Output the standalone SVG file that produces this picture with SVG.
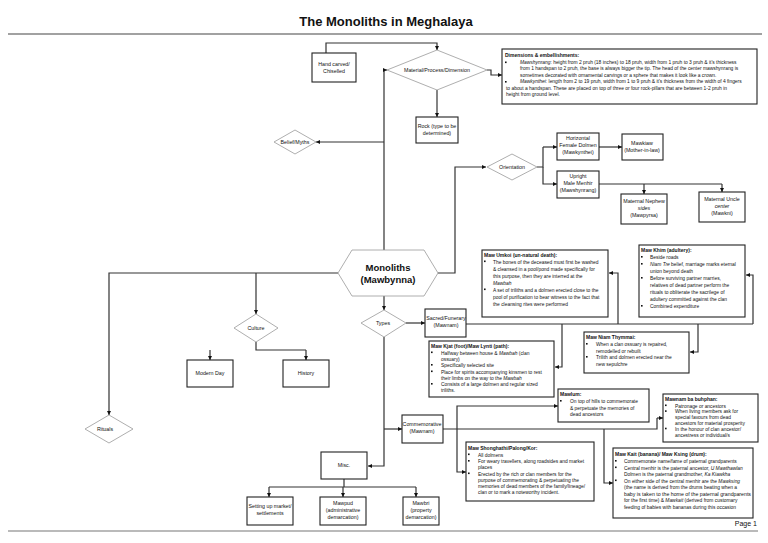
<svg xmlns="http://www.w3.org/2000/svg" width="768" height="543" viewBox="0 0 768 543">
<style>
text{font-family:"Liberation Sans",Arial,sans-serif;fill:#111}
.t{font-size:5.3px;text-anchor:middle}
.s{font-size:4.9px}
.h{font-size:5px;font-weight:bold}
.i{font-style:italic}
.b{fill:#fff;stroke:#222;stroke-width:1.1}
.d{fill:#fff;stroke:#999;stroke-width:0.8}
.c{fill:none;stroke:#333;stroke-width:1.2;marker-end:url(#a)}
.n{fill:none;stroke:#333;stroke-width:1.2}
.bl{fill:#111}
</style>
<defs>
<marker id="a" viewBox="0 0 6 6" refX="6" refY="3" markerWidth="4" markerHeight="4" orient="auto" markerUnits="userSpaceOnUse"><path d="M0,0L6,3L0,6z" fill="#111"/></marker>
<rect id="q" width="1.6" height="1.6" class="bl"/>
</defs>
<rect width="768" height="543" fill="#fff"/>
<text x="386" y="26" style="font-size:13px;font-weight:bold;text-anchor:middle">The Monoliths in Meghalaya</text>
<line x1="8" y1="34" x2="762" y2="34" stroke="#444" stroke-width="1.2"/>
<line x1="8" y1="531" x2="758" y2="531" stroke="#777" stroke-width="1.2"/>
<text x="757" y="526" style="font-size:7px;text-anchor:end">Page 1</text>

<g id="connectors">
<path class="c" d="M326,53V43H437V50"/>
<path class="c" d="M487,70H491V75H502"/>
<path class="c" d="M437,90V117"/>
<path class="c" d="M384,250V70H387"/>
<path class="c" d="M384,142H316"/>
<path class="c" d="M438,273H455V167H486"/>
<path class="n" d="M537,167H543V147"/>
<path class="c" d="M543,147H557"/>
<path class="c" d="M543,167V184H557"/>
<path class="c" d="M599,147H622"/>
<path class="n" d="M599,184H722"/>
<path class="c" d="M644,184V194"/>
<path class="c" d="M722,184V192"/>
<path class="c" d="M338,273H109V415"/>
<path class="c" d="M256,273V314"/>
<path class="n" d="M256,342V350H306"/>
<path class="c" d="M210,350V360"/>
<path class="c" d="M306,350V360"/>
<path class="c" d="M384,295V310"/>
<path class="c" d="M406,323H425"/>
<path class="n" d="M466,324H753"/>
<path class="c" d="M618,324V273H609"/>
<path class="c" d="M753,324V275H746"/>
<path class="c" d="M562,324V367H555"/>
<path class="c" d="M698,324V352H690"/>
<path class="c" d="M384,337V466H368"/>
<path class="c" d="M384,429H402"/>
<path class="n" d="M344,479V487"/>
<path class="n" d="M269,487H416"/>
<path class="c" d="M269,487V497"/>
<path class="c" d="M343,487V497"/>
<path class="c" d="M416,487V497"/>
<path class="n" d="M443,429H657V418"/>
<path class="c" d="M657,418H663"/>
<path class="c" d="M457,429V406H558"/>
<path class="c" d="M457,429V472H466"/>
<path class="c" d="M604,429V483H613"/>
</g>

<g id="handcarved"><rect class="b" x="312" y="53" width="44" height="29"/><text class="t" x="334" y="66">Hand carved/</text><text class="t" x="334" y="73">Chiselled</text></g>
<g id="material"><polygon class="d" points="437,50 487,70 437,90 387,70"/><text class="t" x="437" y="72">Material/Process/Dimension</text></g>
<g id="dimensions"><rect class="b" x="502" y="49" width="255" height="55"/>
<text class="h" x="505" y="57">Dimensions &amp; embellishments:</text>
<use href="#q" x="505" y="61.5"/><use href="#q" x="505" y="81"/>
<text class="s" x="520" y="63.5"><tspan class="i">Mawshynrang</tspan>: height from 2 pruh (18 inches) to 18 pruh, width from 1 pruh to 3 pruh &amp; it's thickness</text>
<text class="s" x="520" y="70">from 1 handspan to  2 pruh, the base is always bigger the tip. The head of the center mawshynrang is</text>
<text class="s" x="520" y="76.5">sometimes decorated with ornamental carvings or a sphere that makes it look like a crown.</text>
<text class="s" x="520" y="83"><tspan class="i">Mawkynthei</tspan>:  length from 2 to 19 pruh, width from 1 to 9 pruh &amp; it's thickness from the width of 4 fingers</text>
<text class="s" x="506" y="89.5">to about a handspan. These are placed on top of three or four rock-pillars that are between 1-2 pruh in</text>
<text class="s" x="506" y="96">height from ground level.</text></g>
<g id="rock"><rect class="b" x="416" y="117" width="42" height="26"/><text class="t" x="437" y="128">Rock (type to be</text><text class="t" x="437" y="135">determined)</text></g>
<g id="belief"><polygon class="d" points="295,130 316,142 295,154 274,142"/><text class="t" x="295" y="144">Belief/Myths</text></g>
<g id="orientation"><polygon class="d" points="512,154 537,167 512,180 487,167"/><text class="t" x="512" y="169">Orientation</text></g>
<g id="horizontal"><rect class="b" x="557" y="133" width="42" height="27"/><text class="t" x="578" y="140">Horizontal</text><text class="t" x="578" y="147">Female Dolmen</text><text class="t" x="578" y="154">(Mawkynthei)</text></g>
<g id="mawkiaw"><rect class="b" x="622" y="134" width="41" height="26"/><text class="t" x="642" y="145">Mawkiaw</text><text class="t" x="642" y="152">(Mother-in-law)</text></g>
<g id="upright"><rect class="b" x="557" y="171" width="42" height="27"/><text class="t" x="578" y="178">Upright</text><text class="t" x="578" y="185">Male Menhir</text><text class="t" x="578" y="192">(Mawshynrang)</text></g>
<g id="nephew"><rect class="b" x="621" y="194" width="46" height="30"/><text class="t" x="644" y="203">Maternal Nephew</text><text class="t i" x="644" y="210">sides</text><text class="t" x="644" y="217">(Mawpyrsa)</text></g>
<g id="uncle"><rect class="b" x="699" y="192" width="46" height="30"/><text class="t" x="722" y="201">Maternal Uncle</text><text class="t i" x="722" y="208">center</text><text class="t" x="722" y="215">(Mawkni)</text></g>

<g id="umkoi"><rect class="b" x="482" y="250" width="126" height="67"/>
<text class="h" x="484" y="257">Maw Umkoi (un-natural death):</text>
<use href="#q" x="484" y="260.5"/><use href="#q" x="484" y="288.5"/>
<text class="s" x="493" y="263.5">The bones of the deceased must first be washed</text>
<text class="s" x="493" y="270.5">&amp; cleansed in a pool/pond made specifically for</text>
<text class="s" x="493" y="277.5">this purpose, then they are interred at the</text>
<text class="s i" x="493" y="284.5">Mawbah</text>
<text class="s" x="493" y="291.5">A set of triliths and a dolmen erected close to the</text>
<text class="s" x="493" y="298.5">pool of purification to bear witness to the fact that</text>
<text class="s" x="493" y="305.5">the cleansing rites were performed</text></g>
<g id="khim"><rect class="b" x="639" y="245" width="106" height="72"/>
<text class="h" x="641" y="252">Maw Khim (adultery):</text>
<use href="#q" x="641" y="256"/><use href="#q" x="641" y="263"/><use href="#q" x="641" y="277"/><use href="#q" x="641" y="305"/>
<text class="s" x="650" y="259">Beside roads</text>
<text class="s" x="650" y="266"><tspan class="i">Niam Tre</tspan> belief, marriage marks eternal</text>
<text class="s" x="650" y="273">union beyond death</text>
<text class="s" x="650" y="280">Before surviving partner marries,</text>
<text class="s" x="650" y="287">relatives of dead partner perform the</text>
<text class="s" x="650" y="294">rituals to obliterate the sacrilege of</text>
<text class="s" x="650" y="301">adultery committed against the clan</text>
<text class="s" x="650" y="308">Combined expenditure</text></g>

<g id="monoliths"><polygon class="d" points="352,250 424,250 438,273 424,296 352,296 338,273"/><text x="388" y="271" style="font-size:9.5px;font-weight:bold;text-anchor:middle">Monoliths</text><text x="388" y="283" style="font-size:9.5px;font-weight:bold;text-anchor:middle">(Mawbynna)</text></g>
<g id="culture"><polygon class="d" points="256,314 278,328 256,342 234,328"/><text class="t" x="256" y="330">Culture</text></g>
<g id="modern"><rect class="b" x="187" y="360" width="46" height="27"/><text class="t" x="210" y="375">Modern Day</text></g>
<g id="history"><rect class="b" x="283" y="360" width="46" height="27"/><text class="t" x="306" y="375">History</text></g>
<g id="rituals"><polygon class="d" points="109,415 133,429 109,443 85,429"/><text class="t" x="105" y="431">Rituals</text></g>
<g id="types"><polygon class="d" points="384,310 406,323 384,337 361,323"/><text class="t" x="383" y="325">Types</text></g>
<g id="sacred"><rect class="b" x="425" y="309" width="41" height="28"/><text class="t" x="446" y="320">Sacred/Funerary</text><text class="t" x="446" y="327">(Mawnam)</text></g>
<g id="kjat"><rect class="b" x="429" y="341" width="125" height="56"/>
<text class="h" x="431" y="348">Maw Kjat (foot)/Maw Lynti (path):</text>
<use href="#q" x="431" y="351.5"/><use href="#q" x="431" y="364"/><use href="#q" x="431" y="370.5"/><use href="#q" x="431" y="383"/>
<text class="s" x="441" y="354.5">Halfway between house &amp; <tspan class="i">Mawbah</tspan> (clan</text>
<text class="s" x="441" y="360.8">ossuary)</text>
<text class="s" x="441" y="367">Specifically selected site</text>
<text class="s" x="441" y="373.5">Place for spirits accompanying kinsmen to rest</text>
<text class="s" x="441" y="379.8">their limbs on the way to the <tspan class="i">Mawbah</tspan></text>
<text class="s" x="441" y="386">Consists of a large dolmen and regular sized</text>
<text class="s" x="441" y="392.3">triliths.</text></g>
<g id="niam"><rect class="b" x="584" y="332" width="105" height="41"/>
<text class="h" x="586" y="339">Maw Niam Thymmai:</text>
<use href="#q" x="586" y="343"/><use href="#q" x="586" y="356"/>
<text class="s" x="596" y="346">When a clan ossuary is repaired,</text>
<text class="s" x="596" y="352.5">remodelled or rebuilt</text>
<text class="s" x="596" y="359">Trilith and dolmen erected near the</text>
<text class="s" x="596" y="365.5">new sepulchre</text></g>
<g id="commemorative"><rect class="b" x="402" y="415" width="41" height="28"/><text class="t" x="422" y="426">Commemorative</text><text class="t" x="422" y="433">(Mawnam)</text></g>
<g id="mawlum"><rect class="b" x="558" y="389" width="91" height="33"/>
<text class="h" x="560" y="396">Mawlum:</text><use href="#q" x="560" y="400"/>
<text class="s" x="570" y="403">On top of hills to commemorate</text>
<text class="s" x="570" y="409.5">&amp; perpetuate the memories of</text>
<text class="s" x="570" y="416">dead ancestors</text></g>
<g id="buhphan"><rect class="b" x="663" y="394" width="95" height="48"/>
<text class="h" x="665" y="401">Mawnam ba buhphan:</text>
<use href="#q" x="665" y="404.5"/><use href="#q" x="665" y="410.3"/><use href="#q" x="665" y="427.7"/>
<text class="s" x="675" y="407.5">Patronage or ancestors</text>
<text class="s" x="675" y="413.3">When living members ask for</text>
<text class="s" x="675" y="419.1">special favours from dead</text>
<text class="s" x="675" y="424.9">ancestors for material prosperity</text>
<text class="s" x="675" y="430.7">In the honour of clan ancestor/</text>
<text class="s" x="675" y="436.5">ancestress or individual/s</text></g>
<g id="shonghathi"><rect class="b" x="466" y="442" width="128" height="59"/>
<text class="h" x="468" y="450">Maw Shonghathi/Palong/Kor:</text>
<use href="#q" x="468" y="453.5"/><use href="#q" x="468" y="460"/><use href="#q" x="468" y="472.5"/>
<text class="s" x="478" y="456.5">All dolmens</text>
<text class="s" x="478" y="463">For weary travellers, along roadsides and market</text>
<text class="s" x="478" y="469.3">places</text>
<text class="s" x="478" y="475.5">Erected by the rich or clan members for the</text>
<text class="s" x="478" y="481.8">purpose of commemorating &amp; perpetuating the</text>
<text class="s" x="478" y="488">memories of dead members of the family/lineage/</text>
<text class="s" x="478" y="494.3">clan or to mark a noteworthy incident.</text></g>
<g id="kait"><rect class="b" x="613" y="448" width="140" height="70"/>
<text class="h" x="615" y="456">Maw Kait (banana)/ Maw Ksing (drum):</text>
<use href="#q" x="615" y="460"/><use href="#q" x="615" y="466.5"/><use href="#q" x="615" y="479.5"/>
<text class="s" x="624" y="463">Commemorate name/fame of paternal grandparents</text>
<text class="s" x="624" y="469.5">Central menhir is the paternal ancestor, <tspan class="i">U Mawthawlan</tspan></text>
<text class="s" x="624" y="476">Dolmen is the paternal grandmother, <tspan class="i">Ka Kiawkha</tspan></text>
<text class="s" x="624" y="482.5">On either side of the central menhir are the <tspan class="i">Mawksing</tspan></text>
<text class="s" x="624" y="489">(the name is derived from the drums beating when a</text>
<text class="s" x="624" y="495.5" textLength="127" lengthAdjust="spacingAndGlyphs">baby is taken to the home of the paternal grandparents</text>
<text class="s" x="624" y="502">for the first time) &amp; <tspan class="i">Mawkait</tspan> (derived from customary</text>
<text class="s" x="624" y="508.5">feeding of babies with bananas during this occasion</text></g>
<g id="misc"><rect class="b" x="321" y="452" width="46" height="27"/><text class="t" x="344" y="467">Misc.</text></g>
<g id="setting"><rect class="b" x="247" y="497" width="46" height="28"/><text class="t" x="270" y="508">Setting up market/</text><text class="t" x="270" y="515">settlements</text></g>
<g id="mawpud"><rect class="b" x="320" y="497" width="46" height="28"/><text class="t" x="343" y="505">Mawpud</text><text class="t" x="343" y="512">(administrative</text><text class="t" x="343" y="519">demarcation)</text></g>
<g id="mawbri"><rect class="b" x="403" y="497" width="36" height="28"/><text class="t" x="421" y="505">Mawbri</text><text class="t" x="421" y="512">(property</text><text class="t" x="421" y="519">demarcation)</text></g>
</svg>
